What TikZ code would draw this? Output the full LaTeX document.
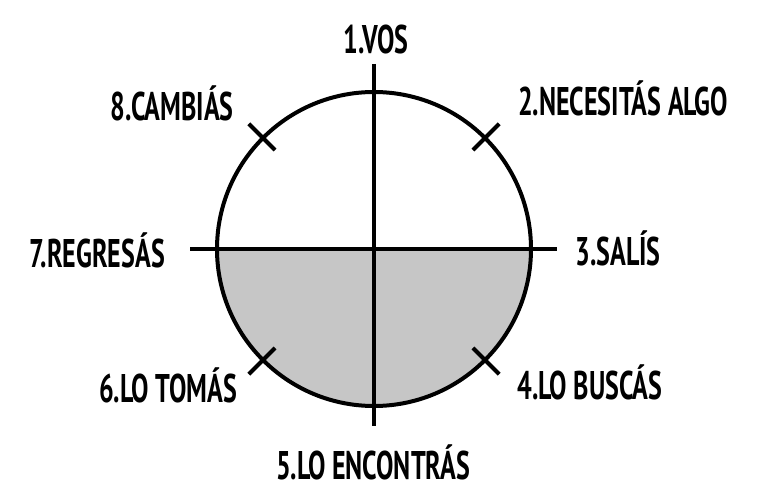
\documentclass[tikz,border=0pt]{standalone}
\usepackage{fontspec}
\setmainfont{PT Sans}
\usetikzlibrary{calc}
\begin{document}
\begin{tikzpicture}[x=1pt,y=-1pt,
  lab/.style={font=\fontsize{40}{42}\selectfont\bfseries, inner sep=0pt},
  ln/.style={line width=4pt, black}]
\useasboundingbox (0,0) rectangle (768,497);
\coordinate (c) at (374,249);
\fill[gray!45] (217,249) arc[start angle=180,end angle=360,x radius=157,y radius=-157] -- cycle;
\draw[ln] (c) circle[radius=157];
\coordinate (t) at (374,64); \coordinate (b) at (374,426);
\coordinate (l) at (190,249); \coordinate (r) at (557,249);
\draw[ln] (t) -- (b);
\draw[ln] (l) -- (r);
\foreach \a in {45,135,225,315}{
  \draw[ln] ($(c)+(\a:140)$) -- ($(c)+(\a:177)$);}
\node[lab] (n1) at (376,40) {\scalebox{0.65}[1]{1.VOS}};
\node[lab] (n2) at (623,98) {\scalebox{0.65}[1]{2.NECESITÁS ALGO}};
\node[lab] (n3) at (618,248) {\scalebox{0.65}[1]{3.SALÍS}};
\node[lab] (n4) at (590,382) {\scalebox{0.65}[1]{4.LO BUSCÁS}};
\node[lab] (n5) at (373,462) {\scalebox{0.65}[1]{5.LO ENCONTRÁS}};
\node[lab] (n6) at (168,385) {\scalebox{0.65}[1]{6.LO TOMÁS}};
\node[lab] (n7) at (97,250) {\scalebox{0.65}[1]{7.REGRESÁS}};
\node[lab] (n8) at (172,103) {\scalebox{0.65}[1]{8.CAMBIÁS}};
\end{tikzpicture}
\end{document}
